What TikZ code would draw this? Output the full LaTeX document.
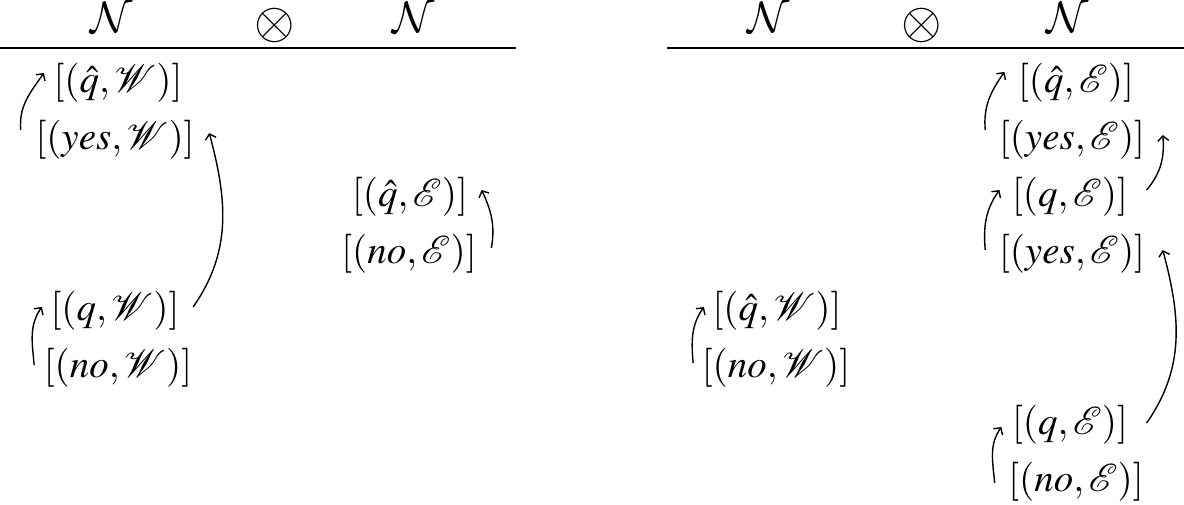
\documentclass[tikz,border=0pt]{standalone}
\usepackage{mathptmx}
\usepackage{mathrsfs}
\DeclareMathAlphabet{\mathcal}{OMS}{cmsy}{m}{n}
\usetikzlibrary{arrows.meta,calc}
\tikzset{
  ent/.style={inner sep=0pt, font=\normalsize, scale=3.9, transform shape},
  hd/.style={inner sep=0pt, font=\normalsize, scale=4.4, transform shape},
  op/.style={inner sep=0pt, font=\normalsize, scale=5.2, transform shape},
  arr/.style={line width=1.4pt, -{Straight Barb[length=5pt,width=11pt]}},
  rule/.style={line width=1.3pt}
}
\begin{document}
\begin{tikzpicture}[x=1pt,y=-1pt]
\useasboundingbox (0,0) rectangle (1184,504);
% headers left
\node[hd, anchor=base] (hN1) at (112,32) {$\mathcal{N}$};
\node[op] (hO1) at (275,25) {$\otimes$};
\node[hd, anchor=base] (hN2) at (414,32) {$\mathcal{N}$};
\draw[rule] (0,48) -- (516,48);
% headers right
\node[hd, anchor=base] (hN3) at (769,32) {$\mathcal{N}$};
\node[op] (hO2) at (922,25) {$\otimes$};
\node[hd, anchor=base] (hN4) at (1068,32) {$\mathcal{N}$};
\draw[rule] (667,48) -- (1184,48);
% left entries
\node[ent] (qhW) at (118,83) {$[(\hat q, \mathscr{W})]$};
\node[ent] (yesW) at (115,140) {$[(yes, \mathscr{W})]$};
\node[ent] (qhE) at (410,197) {$[(\hat q, \mathscr{E})]$};
\node[ent] (noE) at (409,254) {$[(no, \mathscr{E})]$};
\node[ent] (qW) at (115,311) {$[(q, \mathscr{W})]$};
\node[ent] (noW) at (118,368) {$[(no, \mathscr{W})]$};
% right entries
\node[ent] (qhEa) at (1076,83) {$[(\hat q, \mathscr{E})]$};
\node[ent] (yesEa) at (1072,140) {$[(yes, \mathscr{E})]$};
\node[ent] (qEa) at (1070,197) {$[(q, \mathscr{E})]$};
\node[ent] (yesEb) at (1072,254) {$[(yes, \mathscr{E})]$};
\node[ent] (qhWb) at (777,311) {$[(\hat q, \mathscr{W})]$};
\node[ent] (noWb) at (776,368) {$[(no, \mathscr{W})]$};
\node[ent] (qEb) at (1070,425) {$[(q, \mathscr{E})]$};
\node[ent] (noEb) at (1076,482) {$[(no, \mathscr{E})]$};
% left arrows
\draw[arr] ($(yesW.west)+(-14,-10)$) to[out=95,in=235] ($(qhW.west)+(-9,-10)$);
\draw[arr] ($(noW.west)+(-9,-3)$) to[out=95,in=235] ($(qW.west)+(-8,-4)$);
\draw[arr] ($(qW.east)+(13,-4)$) to[out=55,in=-75] ($(yesW.east)+(14,-7)$);
\draw[arr] ($(noE.east)+(14,-6)$) to[out=80,in=-65] ($(qhE.east)+(13,-7)$);
% right arrows
\draw[arr] ($(yesEa.west)+(-13,-10)$) to[out=95,in=235] ($(qhEa.west)+(-13,-11)$);
\draw[arr] ($(qEa.east)+(18,-7)$) to[out=50,in=-85] ($(yesEa.east)+(17,-5)$);
\draw[arr] ($(yesEb.west)+(-13,-4)$) to[out=95,in=235] ($(qEa.west)+(-12,-7)$);
\draw[arr] ($(qEb.east)+(18,-2)$) to[out=55,in=-75] ($(yesEb.east)+(17,-4)$);
\draw[arr] ($(noEb.west)+(-13,1)$) to[out=95,in=235] ($(qEb.west)+(-10,2)$);
\draw[arr] ($(noWb.west)+(-8,-5)$) to[out=95,in=235] ($(qhWb.west)+(-8,-4)$);
\end{tikzpicture}
\end{document}
